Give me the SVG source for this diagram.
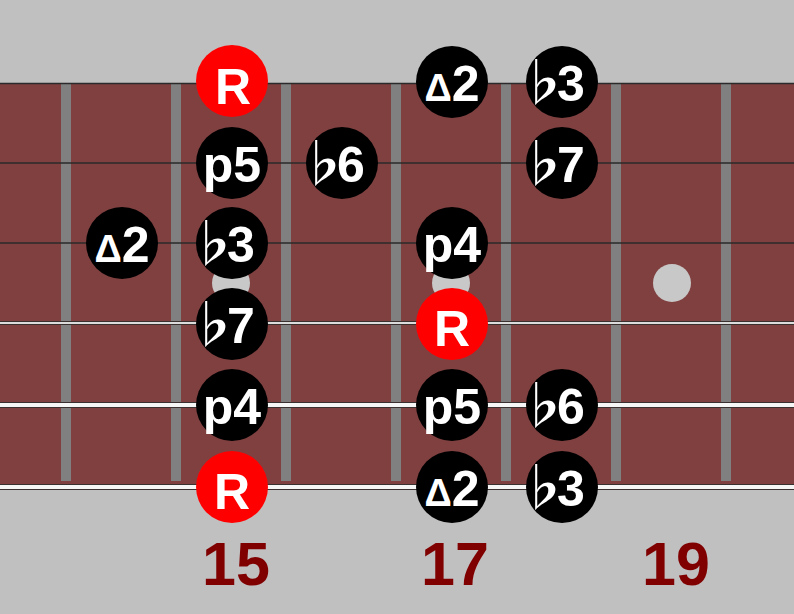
<svg xmlns="http://www.w3.org/2000/svg" width="794" height="614" viewBox="0 0 794 614">
<style>
.bg{fill:#c0c0c0}
.board{fill:#804040}
.fret{fill:#808080}
.dot{fill:#c8c8c8}
.sthin{stroke:#2a2a2a;stroke-width:1.5}
.souter{stroke:#3a3030;stroke-width:6}
.sinner{stroke:#f6f6f6;stroke-width:4}
.sinner2{stroke:#dcdcdc;stroke-width:2}
.note{fill:#000}
.root{fill:#ff0000}
.lbl{fill:#fff;font-family:"Liberation Sans","DejaVu Sans",sans-serif;font-weight:bold;font-size:50px;text-anchor:middle}
.fl{font-family:"Liberation Sans","Noto Sans CJK JP","Noto Sans CJK SC",sans-serif;text-anchor:start;letter-spacing:-11px}
.tri{font-size:38px}
.num{fill:#800000;font-family:"Liberation Sans",sans-serif;font-weight:bold;font-size:61px;text-anchor:middle}
</style>
<rect class="bg" x="0" y="0" width="794" height="614"/>
<g id="fretboard">
<rect class="board" x="0" y="83" width="794" height="404"/>
<rect class="fret" x="61" y="83" width="10" height="398"/>
<rect class="fret" x="171" y="83" width="10" height="398"/>
<rect class="fret" x="281" y="83" width="10" height="398"/>
<rect class="fret" x="391" y="83" width="10" height="398"/>
<rect class="fret" x="501" y="83" width="10" height="398"/>
<rect class="fret" x="611" y="83" width="10" height="398"/>
<rect class="fret" x="721" y="83" width="10" height="398"/>
<circle class="dot" cx="231" cy="283" r="19"/>
<circle class="dot" cx="451" cy="283" r="19"/>
<circle class="dot" cx="672" cy="283" r="19"/>
</g>
<g id="strings">
<line class="sthin" x1="0" y1="83.5" x2="794" y2="83.5"/>
<line class="sthin" x1="0" y1="163" x2="794" y2="163"/>
<line class="sthin" x1="0" y1="243" x2="794" y2="243"/>
<line class="souter" x1="0" y1="323" x2="794" y2="323" style="stroke-width:4"/>
<line class="sinner2" x1="0" y1="323" x2="794" y2="323"/>
<line class="souter" x1="0" y1="405" x2="794" y2="405"/>
<line class="sinner" x1="0" y1="405" x2="794" y2="405"/>
<line class="souter" x1="0" y1="487" x2="794" y2="487"/>
<line class="sinner" x1="0" y1="487" x2="794" y2="487"/>
</g>
<g id="s1-R"><circle class="root" cx="232" cy="81" r="36"/><text class="lbl" x="233" y="104">R</text></g>
<g id="s1-D2"><circle class="note" cx="452" cy="82" r="36"/><text class="lbl" x="452" y="101"><tspan class="tri">Δ</tspan>2</text></g>
<g id="s1-b3"><circle class="note" cx="562" cy="82" r="36"/><text class="lbl fl" x="518" y="101">♭3</text></g>
<g id="s2-p5"><circle class="note" cx="232" cy="163" r="36"/><text class="lbl" x="232" y="182">p5</text></g>
<g id="s2-b6"><circle class="note" cx="342" cy="163" r="36"/><text class="lbl fl" x="298" y="182">♭6</text></g>
<g id="s2-b7"><circle class="note" cx="562" cy="163" r="36"/><text class="lbl fl" x="518" y="182">♭7</text></g>
<g id="s3-D2"><circle class="note" cx="122" cy="243" r="36"/><text class="lbl" x="122" y="262"><tspan class="tri">Δ</tspan>2</text></g>
<g id="s3-b3"><circle class="note" cx="232" cy="243" r="36"/><text class="lbl fl" x="188" y="262">♭3</text></g>
<g id="s3-p4"><circle class="note" cx="452" cy="243" r="36"/><text class="lbl" x="452" y="262">p4</text></g>
<g id="s4-b7"><circle class="note" cx="232" cy="324" r="36"/><text class="lbl fl" x="188" y="343">♭7</text></g>
<g id="s4-R"><circle class="root" cx="452" cy="324" r="36"/><text class="lbl" x="452" y="346">R</text></g>
<g id="s5-p4"><circle class="note" cx="232" cy="405" r="36"/><text class="lbl" x="232" y="424">p4</text></g>
<g id="s5-p5"><circle class="note" cx="452" cy="405" r="36"/><text class="lbl" x="452" y="424">p5</text></g>
<g id="s5-b6"><circle class="note" cx="562" cy="405" r="36"/><text class="lbl fl" x="518" y="424">♭6</text></g>
<g id="s6-R"><circle class="root" cx="232" cy="487" r="36"/><text class="lbl" x="232" y="509">R</text></g>
<g id="s6-D2"><circle class="note" cx="452" cy="487" r="36"/><text class="lbl" x="452" y="506"><tspan class="tri">Δ</tspan>2</text></g>
<g id="s6-b3"><circle class="note" cx="562" cy="487" r="36"/><text class="lbl fl" x="518" y="506">♭3</text></g>
<g id="fret-numbers">
<text class="num" x="236" y="585">15</text>
<text class="num" x="455" y="585">17</text>
<text class="num" x="676" y="585">19</text>
</g>
</svg>
